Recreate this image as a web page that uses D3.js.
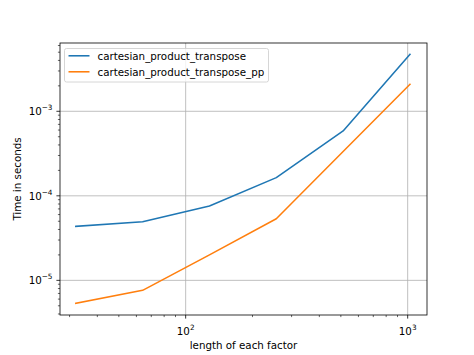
<!DOCTYPE html>
<html><head><meta charset="utf-8">
<script src="https://cdn.jsdelivr.net/npm/d3@7"></script>
<style>body{margin:0;background:#fff}svg{display:block}text{font-family:"DejaVu Sans",sans-serif}</style>
</head><body>
<svg id="c" width="474" height="355"></svg>
<script>
const sizes = [32, 64, 128, 256, 512, 1024];
const seriesNames = ["cartesian_product_transpose", "cartesian_product_transpose_pp"];
const transposeTimes = [4.35e-5, 4.94e-5, 7.57e-5, 1.64e-4, 5.85e-4, 4.73e-3];
const transposePPTimes = [5.34e-6, 7.62e-6, 2.0e-5, 5.36e-5, 3.34e-4, 2.09e-3];
const colors = ["#1f77b4", "#ff7f0e"];
const xMajor = [100, 1000];
const yMajor = [1e-5, 1e-4, 1e-3];

const svg = d3.select("#c");
const L = 60, R = 427, T = 43, B = 315;
const x = d3.scaleLog().domain([Math.pow(10,1.434), Math.pow(10,3.087)]).range([L, R]);
const y = d3.scaleLog().domain([Math.pow(10,-5.41), Math.pow(10,-2.192)]).range([B, T]);

// grid
const g = svg.append("g");
xMajor.forEach(v => g.append("line").attr("x1", x(v)).attr("x2", x(v)).attr("y1", T).attr("y2", B)
  .attr("stroke", "#b0b0b0").attr("stroke-width", 0.8));
yMajor.forEach(v => g.append("line").attr("x1", L).attr("x2", R).attr("y1", y(v)).attr("y2", y(v))
  .attr("stroke", "#b0b0b0").attr("stroke-width", 0.8));

// lines
const line = d3.line().x((d, i) => x(sizes[i])).y(d => y(d));
[transposeTimes, transposePPTimes].forEach((s, k) => {
  svg.append("path").attr("d", line(s)).attr("fill", "none").attr("stroke", colors[k])
    .attr("stroke-width", 1.55).attr("stroke-linejoin", "round").attr("stroke-linecap", "square");
});

// minor ticks
const xd = x.domain(), yd = y.domain();
const xMinor = [], yMinor = [];
for (let e = 1; e <= 3; e++) for (let m = 2; m <= 9; m++) { const v = m * Math.pow(10, e); if (v >= xd[0] && v <= xd[1]) xMinor.push(v); }
for (let e = -6; e <= -3; e++) for (let m = 2; m <= 9; m++) { const v = m * Math.pow(10, e); if (v >= yd[0] && v <= yd[1]) yMinor.push(v); }
xMinor.forEach(v => svg.append("line").attr("x1", x(v)).attr("x2", x(v)).attr("y1", B).attr("y2", B + 2.1).attr("stroke", "#000").attr("stroke-width", 0.6));
yMinor.forEach(v => svg.append("line").attr("x1", L).attr("x2", L - 2.1).attr("y1", y(v)).attr("y2", y(v)).attr("stroke", "#000").attr("stroke-width", 0.6));
xMajor.forEach(v => svg.append("line").attr("x1", x(v)).attr("x2", x(v)).attr("y1", B).attr("y2", B + 3.6).attr("stroke", "#000").attr("stroke-width", 0.8));
yMajor.forEach(v => svg.append("line").attr("x1", L).attr("x2", L - 3.6).attr("y1", y(v)).attr("y2", y(v)).attr("stroke", "#000").attr("stroke-width", 0.8));

// tick labels
function powLabel(sel, exp) {
  sel.append("tspan").text("10");
  sel.append("tspan").attr("dy", -5).attr("font-size", 7.3).text(exp);
}
xMajor.forEach(v => {
  const t = svg.append("text").attr("x", x(v)).attr("y", B + 19.5).attr("text-anchor", "middle")
    .attr("font-size", 10.3).attr("fill", "#000");
  powLabel(t, String(Math.round(Math.log10(v))));
});
yMajor.forEach(v => {
  const t = svg.append("text").attr("x", L - 7.5).attr("y", y(v) + 4).attr("text-anchor", "end")
    .attr("font-size", 10.3).attr("fill", "#000");
  powLabel(t, "\u2212" + Math.abs(Math.round(Math.log10(v))));
});

// spines
svg.append("rect").attr("x", L).attr("y", T).attr("width", R - L).attr("height", B - T)
  .attr("fill", "none").attr("stroke", "#000").attr("stroke-width", 0.8);

// axis labels
svg.append("text").attr("x", (L + R) / 2).attr("y", 349).attr("text-anchor", "middle")
  .attr("font-size", 10.3).text("length of each factor");
svg.append("text").attr("transform", `translate(21,${(T + B) / 2}) rotate(-90)`).attr("text-anchor", "middle")
  .attr("font-size", 10.3).text("Time in seconds");

// legend
const lg = svg.append("g");
lg.append("rect").attr("x", 64.5).attr("y", 48.5).attr("width", 204).attr("height", 33.5).attr("rx", 2)
  .attr("fill", "#fff").attr("fill-opacity", 0.8).attr("stroke", "#cccccc").attr("stroke-width", 0.8);
seriesNames.forEach((n, k) => {
  const yy = 55.8 + k * 16;
  lg.append("line").attr("x1", 68.5).attr("x2", 89.5).attr("y1", yy).attr("y2", yy).attr("stroke", colors[k]).attr("stroke-width", 1.55);
  lg.append("text").attr("x", 97.5).attr("y", yy + 3.7).attr("font-size", 10.3).text(n);
});
</script>
</body></html>
